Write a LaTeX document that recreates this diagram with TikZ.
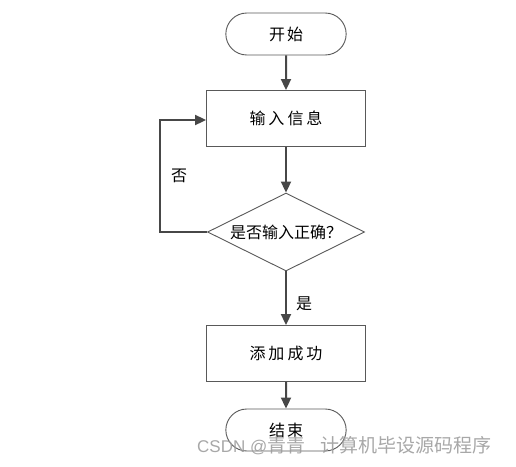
\documentclass[tikz,border=0pt]{standalone}
\usepackage{fontspec}
\setmainfont{Liberation Sans}
\newfontfamily\cjk{Noto Sans CJK SC}
\usetikzlibrary{shapes.geometric,shapes.misc,arrows.meta}
\tikzset{
  shape line/.style={draw=black!65, line width=0.9pt, fill=white},
  cjkfont/.style={font=\cjk\fontsize{16pt}{19pt}\selectfont},
  term/.style={shape line, rounded rectangle, minimum width=127pt, minimum height=42pt, cjkfont},
  proc/.style={shape line, rectangle, minimum width=159pt, minimum height=56pt, cjkfont},
  dec/.style={shape line, diamond, minimum width=157pt, minimum height=78pt, aspect=2, inner sep=0pt, cjkfont},
  flow/.style={draw=black!72, line width=2pt, -{Triangle[length=11pt,width=10pt]}},
  lbl/.style={cjkfont}
}
\begin{document}
\begin{tikzpicture}[x=1pt,y=-1pt]
\useasboundingbox (0,0) rectangle (516,466);
\node[term] (start) at (286,34) {开\hspace{2pt}始};
\node[proc] (input) at (286,118.5) {输\hspace{3pt}入\hspace{3pt}信\hspace{3pt}息};
\node[dec] (check) at (286,232) {是否输入正确？};
\node[proc] (ok) at (286,353.5) {添\hspace{3pt}加\hspace{3pt}成\hspace{3pt}功};
\node[term] (end) at (286,430) {结\hspace{2pt}束};
\coordinate (lb) at (160,232);
\coordinate (lt) at (160,120);
\draw[flow] (start) -- (input);
\draw[flow] (input) -- (check);
\draw[flow] (check) -- (ok);
\draw[flow] (ok) -- (end);
\draw[flow] (check.west) -- (lb) -- (lt) -- (input.west |- lt);
\node[lbl] (no) at (179,176) {否};
\node[lbl] (yes) at (304,304) {是};
\node[font=\fontsize{17pt}{20pt}\selectfont, text=black!38, opacity=0.9, anchor=base west, inner sep=0pt] (wm) at (197,452) {CSDN @{\cjk\fontsize{19pt}{22pt}\selectfont 青青\hspace{15pt}计算机毕设源码程序}};
\end{tikzpicture}
\end{document}
